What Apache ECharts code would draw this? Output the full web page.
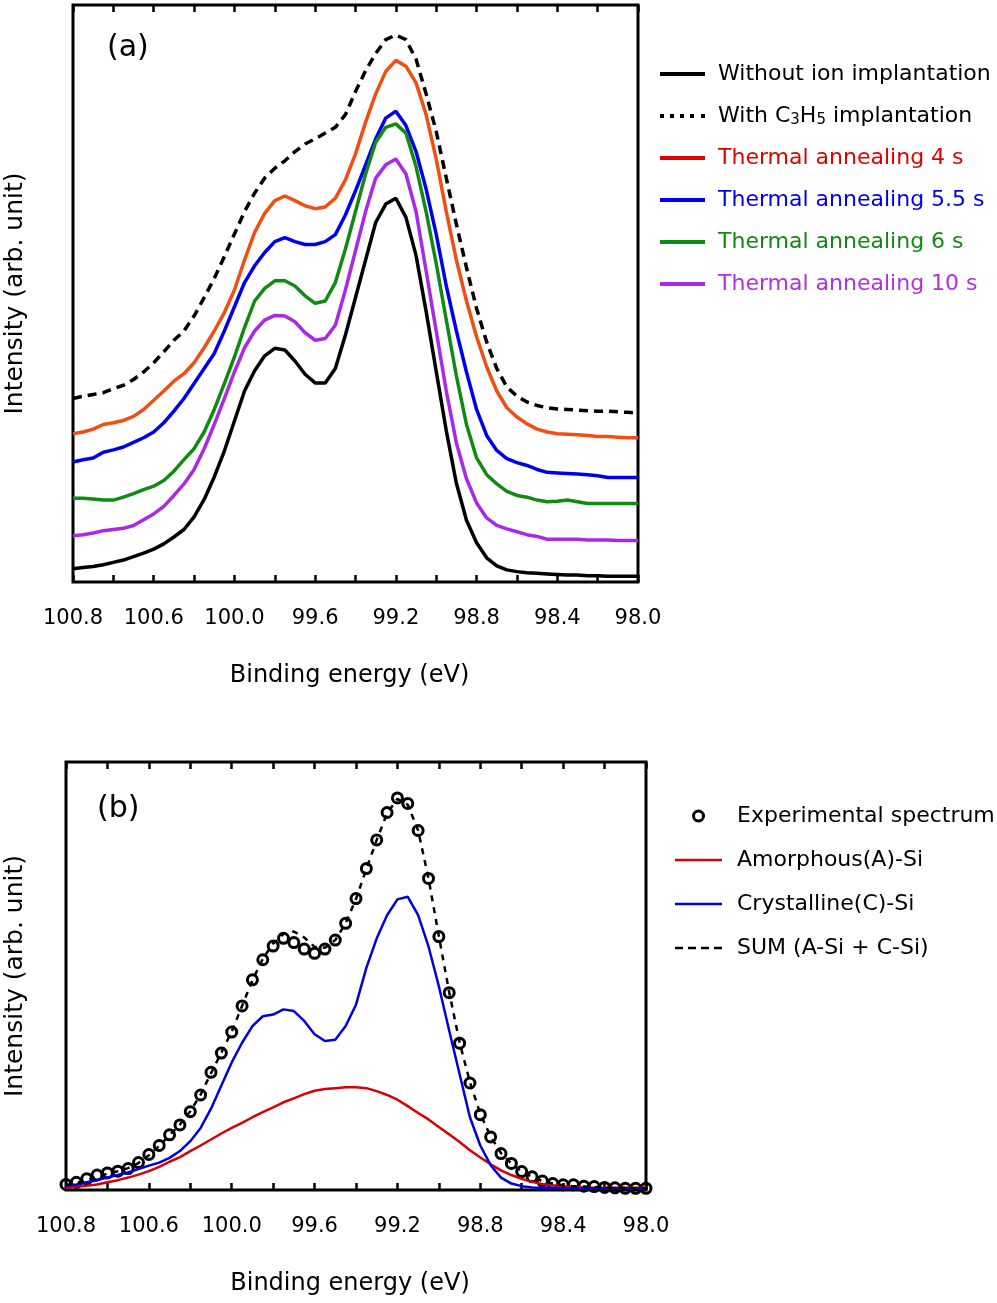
<!DOCTYPE html>
<html>
<head>
<meta charset="utf-8">
<script src="https://cdn.jsdelivr.net/npm/echarts@6.0.0/dist/echarts.min.js"></script>
<style>
  html, body { margin: 0; padding: 0; background: #fff; }
  #chart { width: 997px; height: 1303px; }
</style>
</head>
<body>
<div id="chart"></div>
<script>
// binding energy (eV), same grid for both panels
var energy = [100.80, 100.75, 100.70, 100.65, 100.60, 100.55, 100.50, 100.45, 100.40, 100.35,
  100.30, 100.25, 100.20, 100.15, 100.10, 100.05, 100.00, 99.95, 99.90, 99.85,
  99.80, 99.75, 99.70, 99.65, 99.60, 99.55, 99.50, 99.45, 99.40, 99.35,
  99.30, 99.25, 99.20, 99.15, 99.10, 99.05, 99.00, 98.95, 98.90, 98.85,
  98.80, 98.75, 98.70, 98.65, 98.60, 98.55, 98.50, 98.45, 98.40, 98.35,
  98.30, 98.25, 98.20, 98.15, 98.10, 98.05, 98.00];

// tick labels as printed in the figure
var tickValues = [100.8, 100.4, 100.0, 99.6, 99.2, 98.8, 98.4, 98.0];
var tickLabels = ['100.8', '100.6', '100.0', '99.6', '99.2', '98.8', '98.4', '98.0'];

// panel (a)
var noImplant = [2.3, 2.5, 2.7, 3.0, 3.4, 3.8, 4.4, 5.0, 5.7, 6.6,
  7.8, 9.1, 11.3, 14.3, 18.2, 22.7, 27.9, 33.1, 36.6, 39.2,
  40.5, 40.2, 38.3, 36.0, 34.5, 34.5, 37.0, 42.8, 49.3, 55.8,
  62.3, 65.5, 66.5, 63.2, 56.6, 46.9, 36.5, 26.2, 17.1, 10.7,
  6.8, 4.2, 2.8, 2.1, 1.8, 1.6, 1.5, 1.4, 1.3, 1.2,
  1.2, 1.1, 1.1, 1.0, 1.0, 1.0, 1.0];
var c3h5 = [31.8, 32.2, 32.5, 32.8, 33.5, 34.1, 35.1, 36.4, 38.0, 39.9,
  41.9, 43.5, 46.1, 49.3, 52.6, 56.4, 60.3, 64.2, 67.4, 70.0,
  71.7, 73.0, 74.6, 75.9, 76.8, 77.8, 78.8, 81.0, 85.0, 88.6,
  91.6, 94.0, 94.8, 94.0, 90.6, 84.6, 78.1, 70.0, 62.0, 54.5,
  47.4, 41.6, 37.0, 33.8, 32.2, 31.2, 30.6, 30.2, 30.0, 29.9,
  29.8, 29.7, 29.6, 29.6, 29.5, 29.4, 29.3];
var anneal4 = [25.7, 26.0, 26.5, 27.3, 27.6, 28.0, 28.7, 29.9, 31.5, 33.1,
  34.8, 36.1, 38.0, 40.6, 43.5, 46.7, 50.6, 55.8, 60.6, 63.9,
  66.1, 66.9, 66.1, 65.2, 64.7, 65.0, 66.5, 69.7, 74.2, 79.7,
  84.6, 88.5, 90.4, 89.4, 86.5, 81.0, 73.3, 64.2, 55.8, 48.7,
  42.5, 37.3, 33.1, 30.2, 28.6, 27.4, 26.5, 26.0, 25.7, 25.6,
  25.5, 25.4, 25.2, 25.2, 25.1, 25.0, 25.0];
var anneal55 = [20.8, 21.2, 21.5, 22.5, 22.9, 23.4, 24.2, 25.0, 26.0, 27.6,
  29.6, 31.8, 34.4, 37.0, 39.6, 43.5, 47.7, 51.9, 54.8, 57.1,
  59.0, 59.7, 59.0, 58.5, 58.5, 59.0, 60.2, 63.6, 67.8, 72.3,
  76.8, 80.4, 81.6, 79.1, 74.6, 68.1, 60.3, 51.3, 43.5, 36.4,
  29.9, 25.4, 22.8, 21.4, 20.7, 20.2, 19.5, 19.0, 18.9, 18.8,
  18.7, 18.6, 18.4, 18.1, 18.1, 18.1, 18.1];
var anneal6 = [14.5, 14.5, 14.4, 14.2, 14.2, 14.7, 15.3, 16.0, 16.6, 17.6,
  19.2, 21.2, 23.1, 26.0, 29.9, 34.4, 39.0, 44.1, 48.7, 50.9,
  52.2, 52.2, 51.3, 49.6, 48.3, 48.7, 51.9, 57.7, 64.2, 70.7,
  76.2, 78.8, 79.4, 77.8, 72.0, 64.2, 55.2, 45.4, 35.7, 27.3,
  21.5, 18.6, 17.0, 15.7, 15.0, 14.7, 14.2, 13.9, 14.0, 14.2,
  13.9, 13.6, 13.6, 13.6, 13.6, 13.6, 13.6];
var anneal10 = [8.0, 8.2, 8.5, 8.9, 9.1, 9.3, 9.8, 10.8, 11.8, 13.1,
  15.0, 17.0, 19.5, 23.1, 27.3, 31.8, 36.4, 40.6, 43.5, 45.4,
  46.2, 46.1, 45.1, 43.2, 41.9, 42.2, 44.5, 50.6, 57.4, 64.2,
  70.0, 72.3, 73.3, 70.7, 64.2, 53.9, 43.5, 33.1, 24.1, 17.9,
  13.7, 11.1, 9.8, 9.2, 8.7, 8.2, 7.9, 7.4, 7.4, 7.4,
  7.4, 7.3, 7.3, 7.3, 7.2, 7.2, 7.2];

// panel (b)
var experimental = [1.3, 1.8, 2.6, 3.5, 4.0, 4.4, 5.0, 6.4, 8.3, 10.4,
  12.9, 15.2, 18.3, 22.2, 27.5, 32.0, 36.9, 43.0, 49.1, 53.8,
  57.0, 58.8, 57.8, 56.3, 55.3, 56.3, 58.4, 62.3, 68.1, 75.1,
  81.8, 88.2, 91.6, 90.3, 84.0, 72.8, 59.2, 46.1, 34.3, 25.0,
  17.6, 12.4, 8.5, 6.2, 4.3, 3.1, 2.1, 1.5, 1.2, 1.2,
  0.9, 0.8, 0.6, 0.5, 0.4, 0.4, 0.4];
var amorphous = [0.5, 0.8, 1.0, 1.3, 1.8, 2.3, 2.9, 3.6, 4.4, 5.4,
  6.6, 7.7, 9.1, 10.4, 11.8, 13.2, 14.5, 15.7, 17.0, 18.2,
  19.3, 20.5, 21.4, 22.4, 23.2, 23.6, 23.8, 24.0, 24.0, 23.8,
  23.1, 22.2, 21.1, 19.6, 18.0, 16.5, 14.7, 13.0, 11.2, 9.3,
  7.6, 6.0, 4.6, 3.5, 2.6, 1.9, 1.4, 1.1, 0.9, 0.7,
  0.6, 0.5, 0.5, 0.5, 0.5, 0.5, 0.5];
var crystalline = [1.0, 1.3, 1.8, 2.3, 2.9, 3.5, 4.1, 4.9, 5.7, 6.4,
  7.5, 9.1, 11.4, 14.5, 19.0, 24.4, 29.8, 34.4, 38.3, 40.6,
  41.0, 42.2, 41.8, 39.5, 36.4, 34.8, 35.1, 38.3, 43.3, 51.9,
  58.8, 64.2, 67.9, 68.5, 64.2, 56.9, 47.6, 37.2, 27.1, 17.0,
  10.4, 5.8, 2.9, 1.5, 0.9, 0.6, 0.5, 0.5, 0.4, 0.4,
  0.4, 0.4, 0.4, 0.4, 0.4, 0.4, 0.4];
var sumFit = [1.2, 1.6, 2.3, 3.1, 3.8, 4.4, 5.1, 6.3, 8.1, 10.3,
  12.8, 15.3, 18.4, 22.3, 27.3, 32.1, 37.0, 43.0, 49.0, 54.0,
  57.6, 59.8, 60.4, 59.0, 56.8, 56.6, 58.4, 62.3, 68.0, 75.0,
  81.8, 88.0, 91.4, 90.0, 84.0, 72.8, 59.3, 46.2, 34.5, 25.2,
  17.8, 12.5, 8.6, 6.2, 4.3, 3.1, 2.1, 1.5, 1.1, 0.9,
  0.8, 0.7, 0.6, 0.5, 0.5, 0.4, 0.4];

var FONT = 'DejaVu Sans';

// legend glyphs (solid bar, dotted bar, dashed bar)
var ICON_A_SOLID = 'path://M0,0h45v4h-45z';
var ICON_A_DOTS = 'path://M0,0h4v4h-4z M10,0h4v4h-4z M20,0h4v4h-4z M30,0h4v4h-4z M41,0h4v4h-4z';
var ICON_B_SOLID = 'path://M0,0h47v2.6h-47z';
var ICON_B_DASH = 'path://M0,0h8v2.6h-8z M13,0h8v2.6h-8z M26,0h8v2.6h-8z M39,0h8v2.6h-8z';

function pairs(vals) {
  return vals.map(function (v, i) { return [energy[i], v]; });
}

function tickFmt(v) {
  var k = tickValues.indexOf(Math.round(v * 10) / 10);
  return k < 0 ? '' : tickLabels[k];
}

function xAxisFor(gridIndex, pos) {
  var bottom = pos === 'bottom';
  return {
    type: 'value',
    gridIndex: gridIndex,
    position: pos,
    inverse: true,
    min: 98.0,
    max: 100.8,
    interval: 0.2,
    axisLine: { show: false },
    axisTick: { show: true, inside: true, length: 7, lineStyle: { color: '#000', width: 2.5 } },
    axisLabel: {
      show: bottom,
      formatter: tickFmt,
      color: '#000',
      fontSize: 21,
      fontFamily: FONT,
      margin: 26
    },
    splitLine: { show: false },
    name: bottom ? 'Binding energy (eV)' : '',
    nameLocation: 'middle',
    nameGap: 82,
    nameTextStyle: { color: '#000', fontSize: 24, fontFamily: FONT, padding: [0, 12, 0, 0] }
  };
}

function yAxisFor(gridIndex, gap) {
  return {
    type: 'value',
    gridIndex: gridIndex,
    min: 0,
    max: 100,
    axisLine: { show: false },
    axisTick: { show: false },
    axisLabel: { show: false },
    splitLine: { show: false },
    name: 'Intensity (arb. unit)',
    nameLocation: 'middle',
    nameGap: gap,
    nameTextStyle: { color: '#000', fontSize: 25, fontFamily: FONT }
  };
}

function lineSeries(name, vals, color, width, type, xi, yi) {
  return {
    name: name,
    type: 'line',
    xAxisIndex: xi,
    yAxisIndex: yi,
    data: pairs(vals),
    symbol: 'none',
    smooth: false,
    color: color,
    lineStyle: { color: color, width: width, type: type, cap: 'butt' }
  };
}

var chart = echarts.init(document.getElementById('chart'), null, { renderer: 'canvas' });

var option = {
  animation: false,
  backgroundColor: '#fff',
  textStyle: { fontFamily: FONT },
  grid: [
    { left: 73, top: 5, width: 565, height: 577, outerBoundsMode: 'none', containLabel: false,
      show: true, borderColor: '#000', borderWidth: 3 },
    { left: 66, top: 762, width: 580, height: 428, outerBoundsMode: 'none', containLabel: false,
      show: true, borderColor: '#000', borderWidth: 3 }
  ],
  xAxis: [xAxisFor(0, 'bottom'), xAxisFor(0, 'top'), xAxisFor(1, 'bottom'), xAxisFor(1, 'top')],
  yAxis: [yAxisFor(0, 45), yAxisFor(1, 38)],
  legend: [
    {
      orient: 'vertical',
      left: 660,
      top: 62,
      padding: 0,
      itemWidth: 45,
      itemHeight: 4,
      itemGap: 18,
      selectedMode: false,
      textStyle: {
        fontSize: 22, fontFamily: FONT, color: '#000', lineHeight: 24, padding: [0, 0, 0, 8],
        rich: { sub: { fontSize: 15, fontFamily: FONT, lineHeight: 8, verticalAlign: 'bottom' } }
      },
      formatter: function (name) {
        if (name === 'With C3H5 implantation') return 'With C{sub|3}H{sub|5} implantation';
        return name;
      },
      data: [
        { name: 'Without ion implantation', icon: ICON_A_SOLID },
        { name: 'With C3H5 implantation', icon: ICON_A_DOTS },
        { name: 'Thermal annealing 4 s', icon: ICON_A_SOLID, itemStyle: { color: '#e00000' }, textStyle: { color: '#e00000' } },
        { name: 'Thermal annealing 5.5 s', icon: ICON_A_SOLID, textStyle: { color: '#0000ee' } },
        { name: 'Thermal annealing 6 s', icon: ICON_A_SOLID, textStyle: { color: '#108a10' } },
        { name: 'Thermal annealing 10 s', icon: ICON_A_SOLID, textStyle: { color: '#b030e8' } }
      ]
    },
    {
      orient: 'vertical',
      left: 675,
      top: 804,
      padding: 0,
      itemWidth: 47,
      itemHeight: 10,
      itemGap: 20,
      selectedMode: false,
      textStyle: { fontSize: 22, fontFamily: FONT, color: '#000', lineHeight: 24, padding: [0, 0, 0, 10] },
      data: [
        { name: 'Experimental spectrum', icon: 'circle', itemStyle: { color: 'rgba(0,0,0,0)', borderColor: '#000', borderWidth: 3, opacity: 1 } },
        { name: 'Amorphous(A)-Si', icon: ICON_B_SOLID },
        { name: 'Crystalline(C)-Si', icon: ICON_B_SOLID },
        { name: 'SUM (A-Si + C-Si)', icon: ICON_B_DASH }
      ]
    }
  ],
  graphic: [
    { type: 'text', left: 107, top: 33, style: { text: '(a)', fontSize: 30, fontFamily: FONT, fill: '#000' } },
    { type: 'text', left: 97, top: 794, style: { text: '(b)', fontSize: 30, fontFamily: FONT, fill: '#000' } }
  ],
  series: [
    lineSeries('Without ion implantation', noImplant, '#000000', 3.5, 'solid', 0, 0),
    lineSeries('With C3H5 implantation', c3h5, '#000000', 3.5, [9, 6], 0, 0),
    lineSeries('Thermal annealing 4 s', anneal4, '#ef4f13', 3.5, 'solid', 0, 0),
    lineSeries('Thermal annealing 5.5 s', anneal55, '#0000ee', 3.5, 'solid', 0, 0),
    lineSeries('Thermal annealing 6 s', anneal6, '#108a10', 3.5, 'solid', 0, 0),
    lineSeries('Thermal annealing 10 s', anneal10, '#a82ae8', 3.5, 'solid', 0, 0),
    lineSeries('Amorphous(A)-Si', amorphous, '#d80000', 2.5, 'solid', 2, 1),
    lineSeries('Crystalline(C)-Si', crystalline, '#0000e0', 2.5, 'solid', 2, 1),
    lineSeries('SUM (A-Si + C-Si)', sumFit, '#000000', 2.5, [6, 6], 2, 1),
    {
      name: 'Experimental spectrum',
      type: 'scatter',
      xAxisIndex: 2,
      yAxisIndex: 1,
      data: pairs(experimental),
      symbol: 'circle',
      symbolSize: 10,
      itemStyle: { color: 'rgba(0,0,0,0)', borderColor: '#000', borderWidth: 3, opacity: 1 }
    }
  ]
};

chart.setOption(option);
</script>
</body>
</html>
